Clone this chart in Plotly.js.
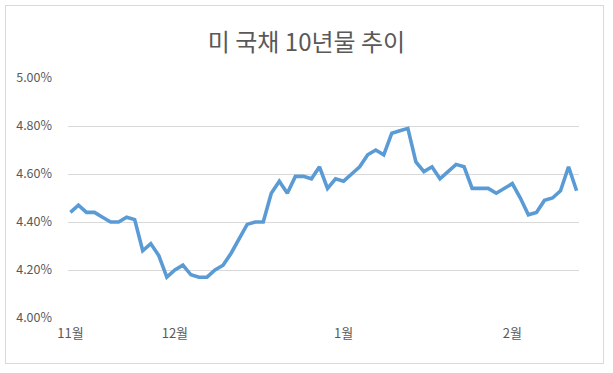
<!DOCTYPE html>
<html>
<head>
<meta charset="utf-8">
<script src="https://cdn.plot.ly/plotly-3.0.1.min.js"></script>
<style>
  html, body { margin: 0; padding: 0; background: #ffffff; }
  #wrap { position: relative; width: 613px; height: 373px; }
  #chart { position: absolute; left: 0; top: 0; width: 613px; height: 373px; }
  #frame { position: absolute; left: 5px; top: 5px; width: 599px; height: 359px;
           border: 1px solid #d9d9d9; box-sizing: border-box; pointer-events: none; }
</style>
</head>
<body>
<div id="wrap">
  <div id="chart"></div>
  <div id="frame"></div>
</div>
<script>
// 미 국채 10년물 금리 (%), 거래일 순서
const yields = [
  4.44, 4.47, 4.44, 4.44, 4.42, 4.40, 4.40, 4.42, 4.41, 4.28,
  4.31, 4.26, 4.17, 4.20, 4.22, 4.18, 4.17, 4.17, 4.20, 4.22,
  4.27, 4.33, 4.39, 4.40, 4.40, 4.52, 4.57, 4.52, 4.59, 4.59,
  4.58, 4.63, 4.54, 4.58, 4.57, 4.60, 4.63, 4.68, 4.70, 4.68,
  4.77, 4.78, 4.79, 4.65, 4.61, 4.63, 4.58, 4.61, 4.64, 4.63,
  4.54, 4.54, 4.54, 4.52, 4.54, 4.56, 4.50, 4.43, 4.44, 4.49,
  4.50, 4.53, 4.63, 4.53
];
const dayIndex = yields.map((_, i) => i);
const monthLabels = ['11월', '12월', '1월', '2월'];
const monthStartIndex = [0, 13, 34, 55];
const yTickValues = [4.0, 4.2, 4.4, 4.6, 4.8, 5.0];
const yTickLabels = ['4.00%', '4.20%', '4.40%', '4.60%', '4.80%', '5.00%'];
const chartTitle = '미 국채 10년물 추이';

const font = '"Noto Sans CJK KR", "Noto Sans", sans-serif';

Plotly.newPlot('chart', [{
  type: 'scatter',
  mode: 'lines',
  x: dayIndex,
  y: yields,
  line: { color: '#5B9BD5', width: 3.6 },
  hoverinfo: 'skip'
}], {
  width: 613,
  height: 373,
  margin: { l: 68, r: 34, t: 78, b: 55, pad: 0 },
  paper_bgcolor: '#ffffff',
  plot_bgcolor: '#ffffff',
  showlegend: false,
  title: {
    text: chartTitle,
    font: { family: font, size: 24, color: '#595959' },
    x: 0.5, xanchor: 'center',
    y: 0.885, yanchor: 'middle', yref: 'container'
  },
  xaxis: {
    range: [-0.3, 63.3],
    tickmode: 'array',
    tickvals: monthStartIndex,
    ticktext: monthLabels,
    showgrid: false,
    zeroline: false,
    showline: false,
    ticks: '',
    ticklabelstandoff: 6,
    tickfont: { family: font, size: 13, color: '#595959' }
  },
  yaxis: {
    range: [4.0, 5.0],
    tickmode: 'array',
    tickvals: yTickValues,
    ticktext: yTickLabels,
    showgrid: true,
    gridcolor: '#d9d9d9',
    gridwidth: 1,
    zeroline: false,
    showline: false,
    ticks: '',
    ticklabelstandoff: 15,
    tickfont: { family: font, size: 12.5, color: '#595959' }
  }
}, { staticPlot: true, displayModeBar: false });
</script>
</body>
</html>
